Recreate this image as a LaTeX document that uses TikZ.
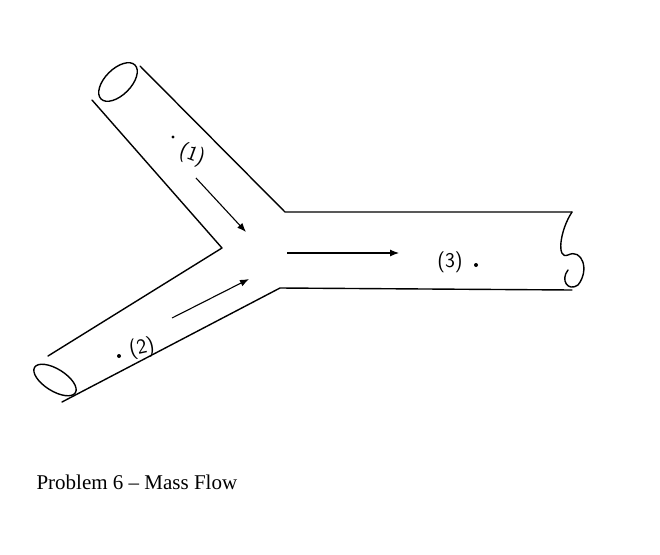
\documentclass[tikz,border=0pt]{standalone}
\usepackage{fontspec}
\setmainfont{Liberation Serif}
\usetikzlibrary{arrows.meta}
\begin{document}
\begin{tikzpicture}[x=1pt,y=-1pt,
  pipe/.style={line width=1.4pt,line join=round,line cap=round},
  flow/.style={line width=1.1pt,-{Latex[length=9pt,width=7pt]}},
  lbl/.style={font=\fontsize{21}{21}\selectfont\sffamily}]
\useasboundingbox (0,0) rectangle (660,554);
% pipe outlines
\draw[pipe] (140,66) -- (285,212) -- (572,212);
\draw[pipe] (92,100) -- (222,248) -- (48,356);
\draw[pipe] (62,402) -- (280,288) -- (572,290);
% end caps
\draw[pipe] (118,82) ellipse[x radius=13,y radius=24,rotate=-45];
\draw[pipe] (55,380) ellipse[x radius=11,y radius=24,rotate=58];
\draw[pipe] (572,212) .. controls (560,230) and (556,260) .. (568,255)
  .. controls (582,248) and (590,270) .. (578,285) .. controls (568,292) and (560,280) .. (568,270);
% arrows
\coordinate (a1s) at (196,178); \coordinate (a1e) at (246,232);
\coordinate (a2s) at (172,318); \coordinate (a2e) at (249,279);
\coordinate (a3s) at (287,253); \coordinate (a3e) at (399,253);
\draw[flow] (a1s) -- (a1e);
\draw[flow] (a2s) -- (a2e);
\draw[flow] (a3s) -- (a3e);
% labels
\node[lbl,rotate=-20] (l1) at (192,155) {(1)};
\node[lbl,rotate=12] (l2) at (142,348) {(2)};
\node[lbl] (l3) at (450,262) {(3)};
\fill (173,137) circle (1.6);
\fill (119,356) circle (2);
\fill (476,265) circle (2);
\node[anchor=west,font=\fontsize{21}{21}\selectfont] (cap) at (33,482) {Problem 6 – Mass Flow};
\end{tikzpicture}
\end{document}
